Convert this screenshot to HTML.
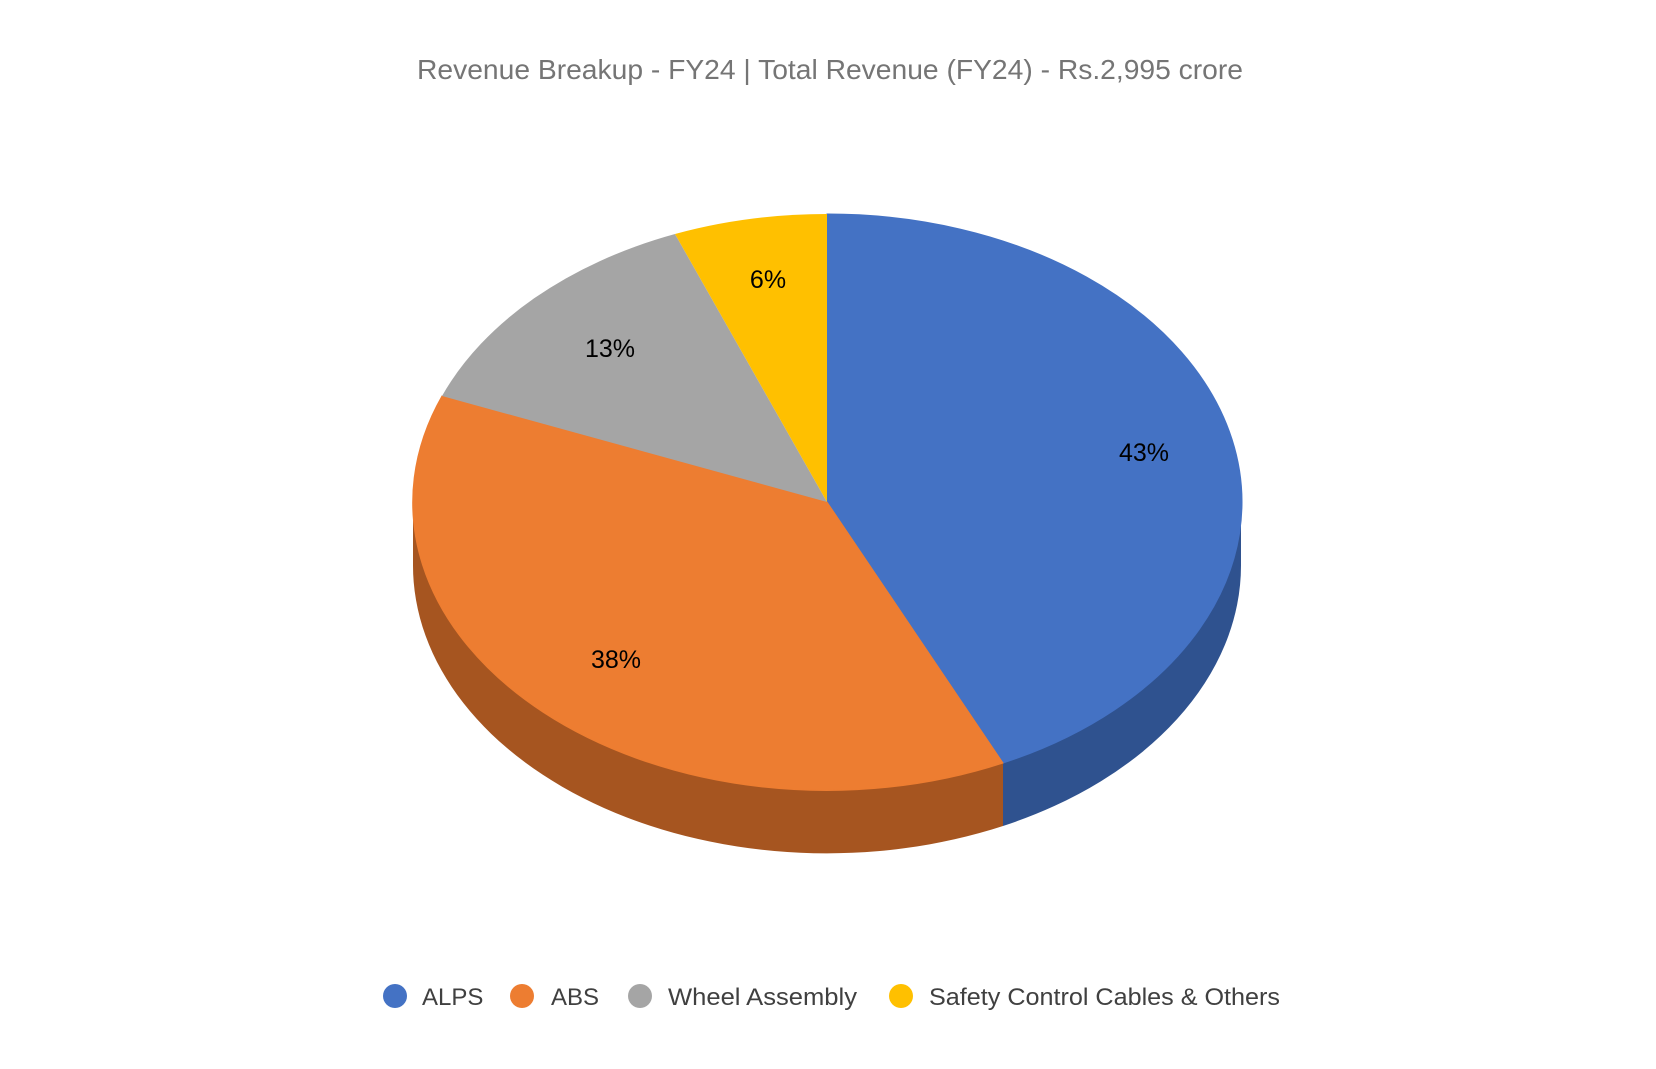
<!DOCTYPE html>
<html><head><style>
html,body{margin:0;padding:0;background:#fff;}
body{width:1656px;height:1064px;overflow:hidden;}
</style></head><body>
<svg width="1656" height="1064" viewBox="0 0 1656 1064" xmlns="http://www.w3.org/2000/svg" font-family="Liberation Sans, Arial, sans-serif">
<text x="830" y="79" text-anchor="middle" font-size="27.5" fill="#757575" font-family="Liberation Sans, sans-serif" textLength="826" lengthAdjust="spacingAndGlyphs">Revenue Breakup - FY24 | Total Revenue (FY24) - Rs.2,995 crore</text>
<path d="M1241,502 A414,288 0 0 1 1003,763 L1003,826 A414,288 0 0 0 1241,564 Z" fill="#2F528F"/>
<path d="M1003,763 A414,288 0 0 1 413,502 L413,564 A414,288 0 0 0 1003,826 Z" fill="#A65520"/>
<path d="M827,502 L827,214 A414,288 0 0 1 1003,763 Z" fill="#4472C4" stroke="#4472C4" stroke-width="1"/>
<path d="M827,502 L1003,763 A414,288 0 0 1 442,396 Z" fill="#ED7D31" stroke="#ED7D31" stroke-width="1"/>
<path d="M827,502 L442,396 A414,288 0 0 1 675,234 Z" fill="#A5A5A5"/>
<path d="M827,502 L675,234 A414,288 0 0 1 827,214 Z" fill="#FFC000"/>
<g font-size="25" fill="#000" text-anchor="middle">
<text x="1144" y="461">43%</text>
<text x="616" y="668">38%</text>
<text x="610" y="357">13%</text>
<text x="768" y="288">6%</text>
</g>
<g font-size="24" fill="#404040">
<circle cx="395" cy="996" r="12" fill="#4472C4"/><text x="422" y="1005">ALPS</text>
<circle cx="522" cy="996" r="12" fill="#ED7D31"/><text x="551" y="1005">ABS</text>
<circle cx="640" cy="996" r="12" fill="#A5A5A5"/><text x="668" y="1005" textLength="189" lengthAdjust="spacingAndGlyphs">Wheel Assembly</text>
<circle cx="901" cy="996" r="12" fill="#FFC000"/><text x="929" y="1005" textLength="351" lengthAdjust="spacingAndGlyphs">Safety Control Cables &amp; Others</text>
</g>
</svg>
</body></html>
